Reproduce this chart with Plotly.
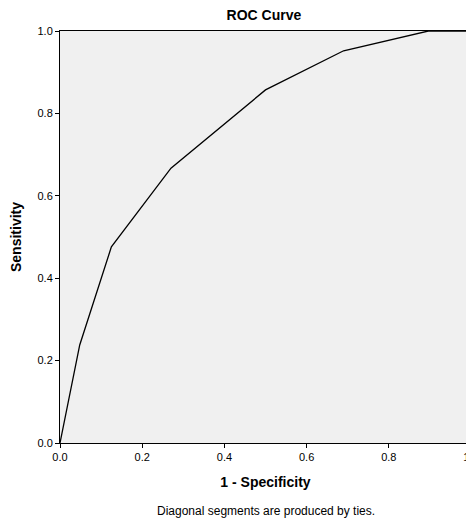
import plotly.graph_objects as go

fpr = [0.0, 0.048, 0.125, 0.27, 0.5, 0.69, 0.896, 1.0]
tpr = [0.0, 0.238, 0.476, 0.667, 0.857, 0.952, 1.0, 1.0]
ticks = [0.0, 0.2, 0.4, 0.6, 0.8, 1.0]
ticklabels = ["0.0", "0.2", "0.4", "0.6", "0.8", "1.0"]

fig = go.Figure(go.Scatter(x=fpr, y=tpr, mode="lines", line=dict(color="black", width=1.3),
                           cliponaxis=False))
ax = dict(range=[0, 1], tickvals=ticks, ticktext=ticklabels, showgrid=False, zeroline=False,
          showline=True, linecolor="black", linewidth=1, mirror=True, ticks="outside",
          ticklen=4, tickcolor="black", automargin=False,
          tickfont=dict(family="Liberation Sans", size=11, color="black"))
fig.update_layout(
    width=474, height=520, paper_bgcolor="white", plot_bgcolor="#f0f0f0",
    margin=dict(l=52, r=11, t=23, b=85, autoexpand=False), showlegend=False,
    title=dict(text="<b>ROC Curve</b>", x=0.54, xanchor="center", y=0.995, yanchor="top",
               font=dict(family="Liberation Sans", size=14, color="black")),
    xaxis=dict(ax, title=dict(text="<b>1 - Specificity</b>", standoff=14,
               font=dict(family="Liberation Sans", size=14, color="black"))),
    yaxis=dict(ax, title=dict(text="<b>Sensitivity</b>", standoff=12,
               font=dict(family="Liberation Sans", size=14, color="black"))),
)
fig.add_annotation(text="Diagonal segments are produced by ties.", xref="paper", yref="paper",
                   x=0.5, y=-0.165, showarrow=False, yanchor="middle",
                   font=dict(family="Liberation Sans", size=12, color="black"))
fig.write_html("out.html")
